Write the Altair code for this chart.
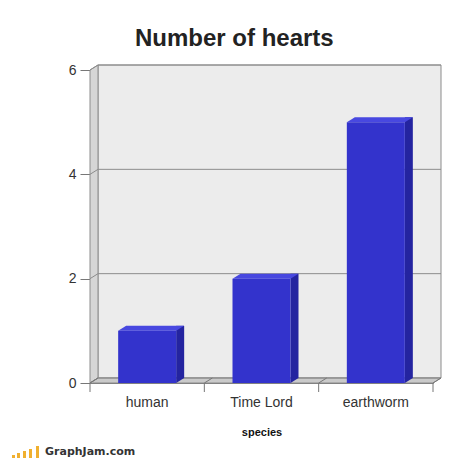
import altair as alt
import pandas as pd

species = ["human", "Time Lord", "earthworm"]
hearts = [1, 2, 5]
y_ticks = [0, 2, 4, 6]

W, H = 343, 313
DX, DY = 8, 5
HALF = 29

df = pd.DataFrame({"species": species, "hearts": hearts})
grid_df = pd.DataFrame({"v": y_ticks})
one = alt.Data(values=[{"a": 1}])

BORDER = "#8c8c8c"
xscale = alt.Scale(domain=species, paddingInner=0, paddingOuter=0)
yscale = alt.Scale(domain=[0, 6], nice=False)
X = alt.X("species:N", scale=xscale, sort=species)

back_wall = alt.Chart(one).mark_rect(fill="#ececec", stroke=BORDER, strokeWidth=1).encode(
    x=alt.value(DX), x2=alt.value(W + DX), y=alt.value(-DY), y2=alt.value(H - DY)
)
side_wall = alt.Chart(one).mark_point(
    shape=f"M0,0 L{DX},{-DY} L{DX},{H-DY} L0,{H} Z", size=4, filled=True,
    fill="#d6d6d6", stroke=BORDER, strokeWidth=1, opacity=1
).encode(x=alt.value(0), y=alt.value(0))
floor = alt.Chart(one).mark_point(
    shape=f"M0,0 L{DX},{-DY} L{W+DX},{-DY} L{W},0 Z", size=4, filled=True,
    fill="#cacaca", stroke=BORDER, strokeWidth=1, opacity=1
).encode(x=alt.value(0), y=alt.value(H))

grid = alt.Chart(grid_df).mark_rule(color="#8c8c8c", strokeWidth=1, yOffset=-DY).encode(
    y=alt.Y("v:Q", scale=yscale), x=alt.value(DX), x2=alt.value(W + DX)
)
grid_slant = alt.Chart(grid_df).mark_point(
    shape=f"M0,0 L{DX},{-DY}", size=4, filled=False, stroke="#8c8c8c", strokeWidth=1, opacity=1
).encode(y=alt.Y("v:Q", scale=yscale), x=alt.value(0))

tick_shape = f"M0,9 L0,0 L{DX},{-DY}"
x_ticks_a = alt.Chart(df).mark_point(
    shape=tick_shape, size=4, filled=False, stroke="#777", strokeWidth=1,
    opacity=1, xOffset=-W / 6
).encode(x=X, y=alt.value(H))
x_ticks_b = alt.Chart(df).transform_filter(
    alt.datum.species == species[-1]
).mark_point(
    shape=tick_shape, size=4, filled=False, stroke="#777", strokeWidth=1,
    opacity=1, xOffset=W / 6
).encode(x=X, y=alt.value(H))

bar_side = alt.Chart(df).mark_bar(
    color="#2424a0", width=DX, xOffset=HALF + DX / 2, yOffset=-DY, y2Offset=-DY
).encode(x=X, y=alt.Y("hearts:Q", scale=yscale), y2=alt.datum(0))
bar_side_tri = alt.Chart(df).mark_point(
    shape=f"M{HALF},{-DY} L{HALF+DX},{-DY} L{HALF},0 Z", size=4, filled=True,
    fill="#2424a0", strokeWidth=0, opacity=1
).encode(x=X, y=alt.value(H))
bar_top = alt.Chart(df).mark_point(
    shape=f"M{-HALF},0 L{-HALF+DX},{-DY} L{HALF+DX},{-DY} L{HALF},0 Z", size=4, filled=True,
    fill="#4848e0", strokeWidth=0, opacity=1
).encode(x=X, y=alt.Y("hearts:Q", scale=yscale))
bar_front = alt.Chart(df).mark_bar(color="#3333cc", width=2 * HALF).encode(
    x=alt.X("species:N", scale=xscale, sort=species,
            axis=alt.Axis(title="species", labelAngle=0, labelAlign="center", ticks=False,
                          domainColor="#777", labelFont="Liberation Sans",
                          labelFontSize=14, labelColor="#333", labelPadding=19,
                          titleFont="Liberation Sans", titleFontSize=11, titleFontWeight="bold",
                          titleColor="#111", titlePadding=17, grid=False)),
    y=alt.Y("hearts:Q", scale=yscale,
            axis=alt.Axis(title=None, values=y_ticks, tickSize=10, tickColor="#777",
                          domainColor="#777", labelFont="Liberation Sans", labelFontSize=14,
                          labelColor="#333", labelPadding=4, grid=False)),
    y2=alt.datum(0),
)

logo_text = alt.Chart(one).mark_text(
    text="GraphJam.com", align="left", baseline="middle", font="DejaVu Sans",
    fontSize=11, fontWeight="bold", color="#333"
).encode(x=alt.value(-45), y=alt.value(382))
logo_bars = alt.Chart(one).mark_point(
    shape="M0,0 L0,-3 L3,-3 L3,0 Z M5,0 L5,-5 L8,-5 L8,0 Z M11,0 L11,-7 L14,-7 L14,0 Z "
          "M17,0 L17,-9 L20,-9 L20,0 Z M24,0 L24,-12 L27,-12 L27,0 Z",
    size=4, filled=True, fill="#f0b030", strokeWidth=0, opacity=1
).encode(x=alt.value(-78), y=alt.value(388))

chart = alt.layer(
    back_wall, side_wall, floor, grid, grid_slant, x_ticks_a, x_ticks_b,
    bar_side, bar_side_tri, bar_top, bar_front, logo_text, logo_bars
).properties(
    width=W, height=H,
    title=alt.TitleParams("Number of hearts", font="Liberation Sans",
                          fontSize=24, fontWeight="bold", color="#222", anchor="start",
                          frame="group", dx=45, offset=12),
    autosize=alt.AutoSizeParams(type="none"),
    padding={"left": 82, "top": 62, "right": 25, "bottom": 76},
).configure_view(stroke=None).configure(background="white")

chart.save("out.html", embed_options={"renderer": "svg", "actions": False})
